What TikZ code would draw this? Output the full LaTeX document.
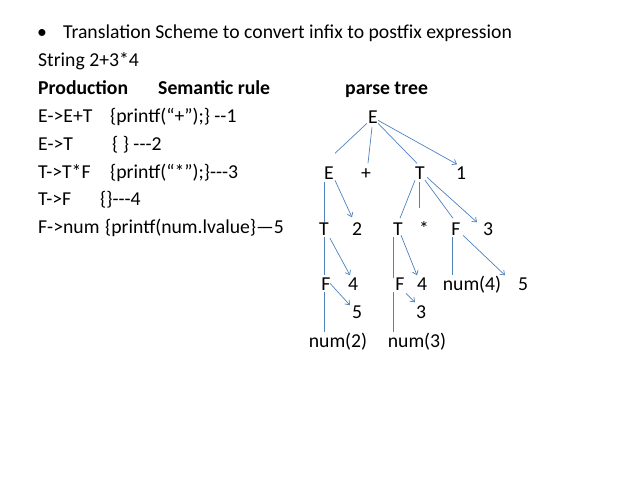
\documentclass[tikz,border=0pt]{standalone}
\usepackage{fontspec}
\setmainfont{Carlito}[Ligatures=TeXOff]
\usetikzlibrary{arrows.meta}
\definecolor{edgeblue}{RGB}{79,129,189}
\begin{document}
\begin{tikzpicture}[x=1pt,y=-1pt,
  font=\fontsize{19.7}{23}\selectfont,
  txt/.style={anchor=base west, inner sep=0pt},
  tn/.style={anchor=base, inner sep=0pt},
  edge/.style={draw=edgeblue, line width=0.7pt},
  arr/.style={edge, -{Straight Barb[length=4pt,width=6pt]}}]
\useasboundingbox (0,0) rectangle (638,478);
% left text
\node[anchor=base, inner sep=0pt] (bul) at (42,38.9) {•};
\node[txt] (title) at (63,38.9) {Translation Scheme to convert infix to postfix expression};
\node[txt] (str) at (38,66.8) {String 2+3*4};
\node[txt] (prod) at (38,94.6) {\bfseries Production};
\node[txt] (sem) at (158,94.6) {\bfseries Semantic rule};
\node[txt] (pt) at (345,94.6) {\bfseries parse tree};
\node[txt] (p1) at (38,122.5) {E->E+T};
\node[txt] (r1) at (110,122.5) {\{printf(“+”);\} --1};
\node[txt] (p2) at (38,150.3) {E->T};
\node[txt] (r2) at (112,150.3) {\{ \} ---2};
\node[txt] (p3) at (38,178.2) {T->T*F};
\node[txt] (r3) at (110,178.2) {\{printf(“*”);\}---3};
\node[txt] (p4) at (38,206.0) {T->F};
\node[txt] (r4) at (100,206.0) {\{\}---4};
\node[txt] (p5) at (38,233.9) {F->num};
\node[txt] (r5) at (105,233.9) {\{printf(num.lvalue\}—5};
% tree nodes
\node[tn] (rE) at (373,123.3) {E};
\node[tn] (E1) at (329,179.3) {E};
\node[tn] (plus) at (366,179.3) {+};
\node[tn] (T1) at (420,179.3) {T};
\node[tn] (one) at (461,179.3) {1};
\node[tn] (T2) at (324,235.3) {T};
\node[tn] (two) at (357,235.3) {2};
\node[tn] (T3) at (398,235.3) {T};
\node[tn] (star) at (424,235.3) {*};
\node[tn] (F2) at (456,235.3) {F};
\node[tn] (three) at (488,235.3) {3};
\node[tn] (F3) at (326,290.3) {F};
\node[tn] (fourA) at (353,290.3) {4};
\node[tn] (F4) at (400,290.3) {F};
\node[tn] (fourB) at (422,290.3) {4};
\node[tn] (num4) at (472,290.3) {num(4)};
\node[tn] (five) at (523,290.3) {5};
\node[tn] (fiveA) at (357,318.3) {5};
\node[tn] (threeB) at (421,318.3) {3};
\node[tn] (num2) at (338,347.3) {num(2)};
\node[tn] (num3) at (417,347.3) {num(3)};
% edges
\draw[edge] ([shift={(-6,0)}]rE.base) -- ([shift={(6,-26)}]E1.base);
\draw[edge] ([shift={(-1,4)}]rE.base) -- ([shift={(2,-16)}]plus.base);
\draw[edge] ([shift={(5,0)}]rE.base) -- ([shift={(-3,-16)}]T1.base);
\draw[arr] ([shift={(5,-3)}]rE.base) -- ([shift={(-4,-15)}]one.base);
\draw[edge] ([shift={(-5,3)}]E1.base) -- ([shift={(0,-13)}]T2.base);
\draw[arr] ([shift={(6,1)}]E1.base) -- ([shift={(-5,-18)}]two.base);
\draw[edge] ([shift={(-5,1)}]T1.base) -- ([shift={(2,-17)}]T3.base);
\draw[edge] ([shift={(-1,3)}]T1.base) -- ([shift={(-5,-27)}]star.base);
\draw[edge] ([shift={(5,1)}]T1.base) -- ([shift={(-3,-17)}]F2.base);
\draw[arr] ([shift={(7,-2)}]T1.base) -- ([shift={(-11,-13)}]three.base);
\draw[edge] ([shift={(0,2)}]T2.base) -- ([shift={(-2,-15)}]F3.base);
\draw[arr] ([shift={(6,3)}]T2.base) -- ([shift={(-3,-15)}]fourA.base);
\draw[edge] ([shift={(-5,2)}]T3.base) -- ([shift={(-7,-12)}]F4.base);
\draw[arr] ([shift={(3,0)}]T3.base) -- ([shift={(-5,-15)}]fourB.base);
\draw[edge] ([shift={(-4,2)}]F2.base) -- ([shift={(-20,-15)}]num4.base);
\draw[arr] ([shift={(7,0)}]F2.base) -- ([shift={(-18,-15)}]five.base);
\draw[edge] ([shift={(-2,2)}]F3.base) -- ([shift={(-14,-15)}]num2.base);
\draw[arr] ([shift={(4,-7)}]F3.base) -- ([shift={(-7,-13)}]fiveA.base);
\draw[edge] ([shift={(-7,2)}]F4.base) -- ([shift={(-24,-15)}]num3.base);
\draw[arr] ([shift={(6,3)}]F4.base) -- ([shift={(-6,-16)}]threeB.base);
\end{tikzpicture}
\end{document}
